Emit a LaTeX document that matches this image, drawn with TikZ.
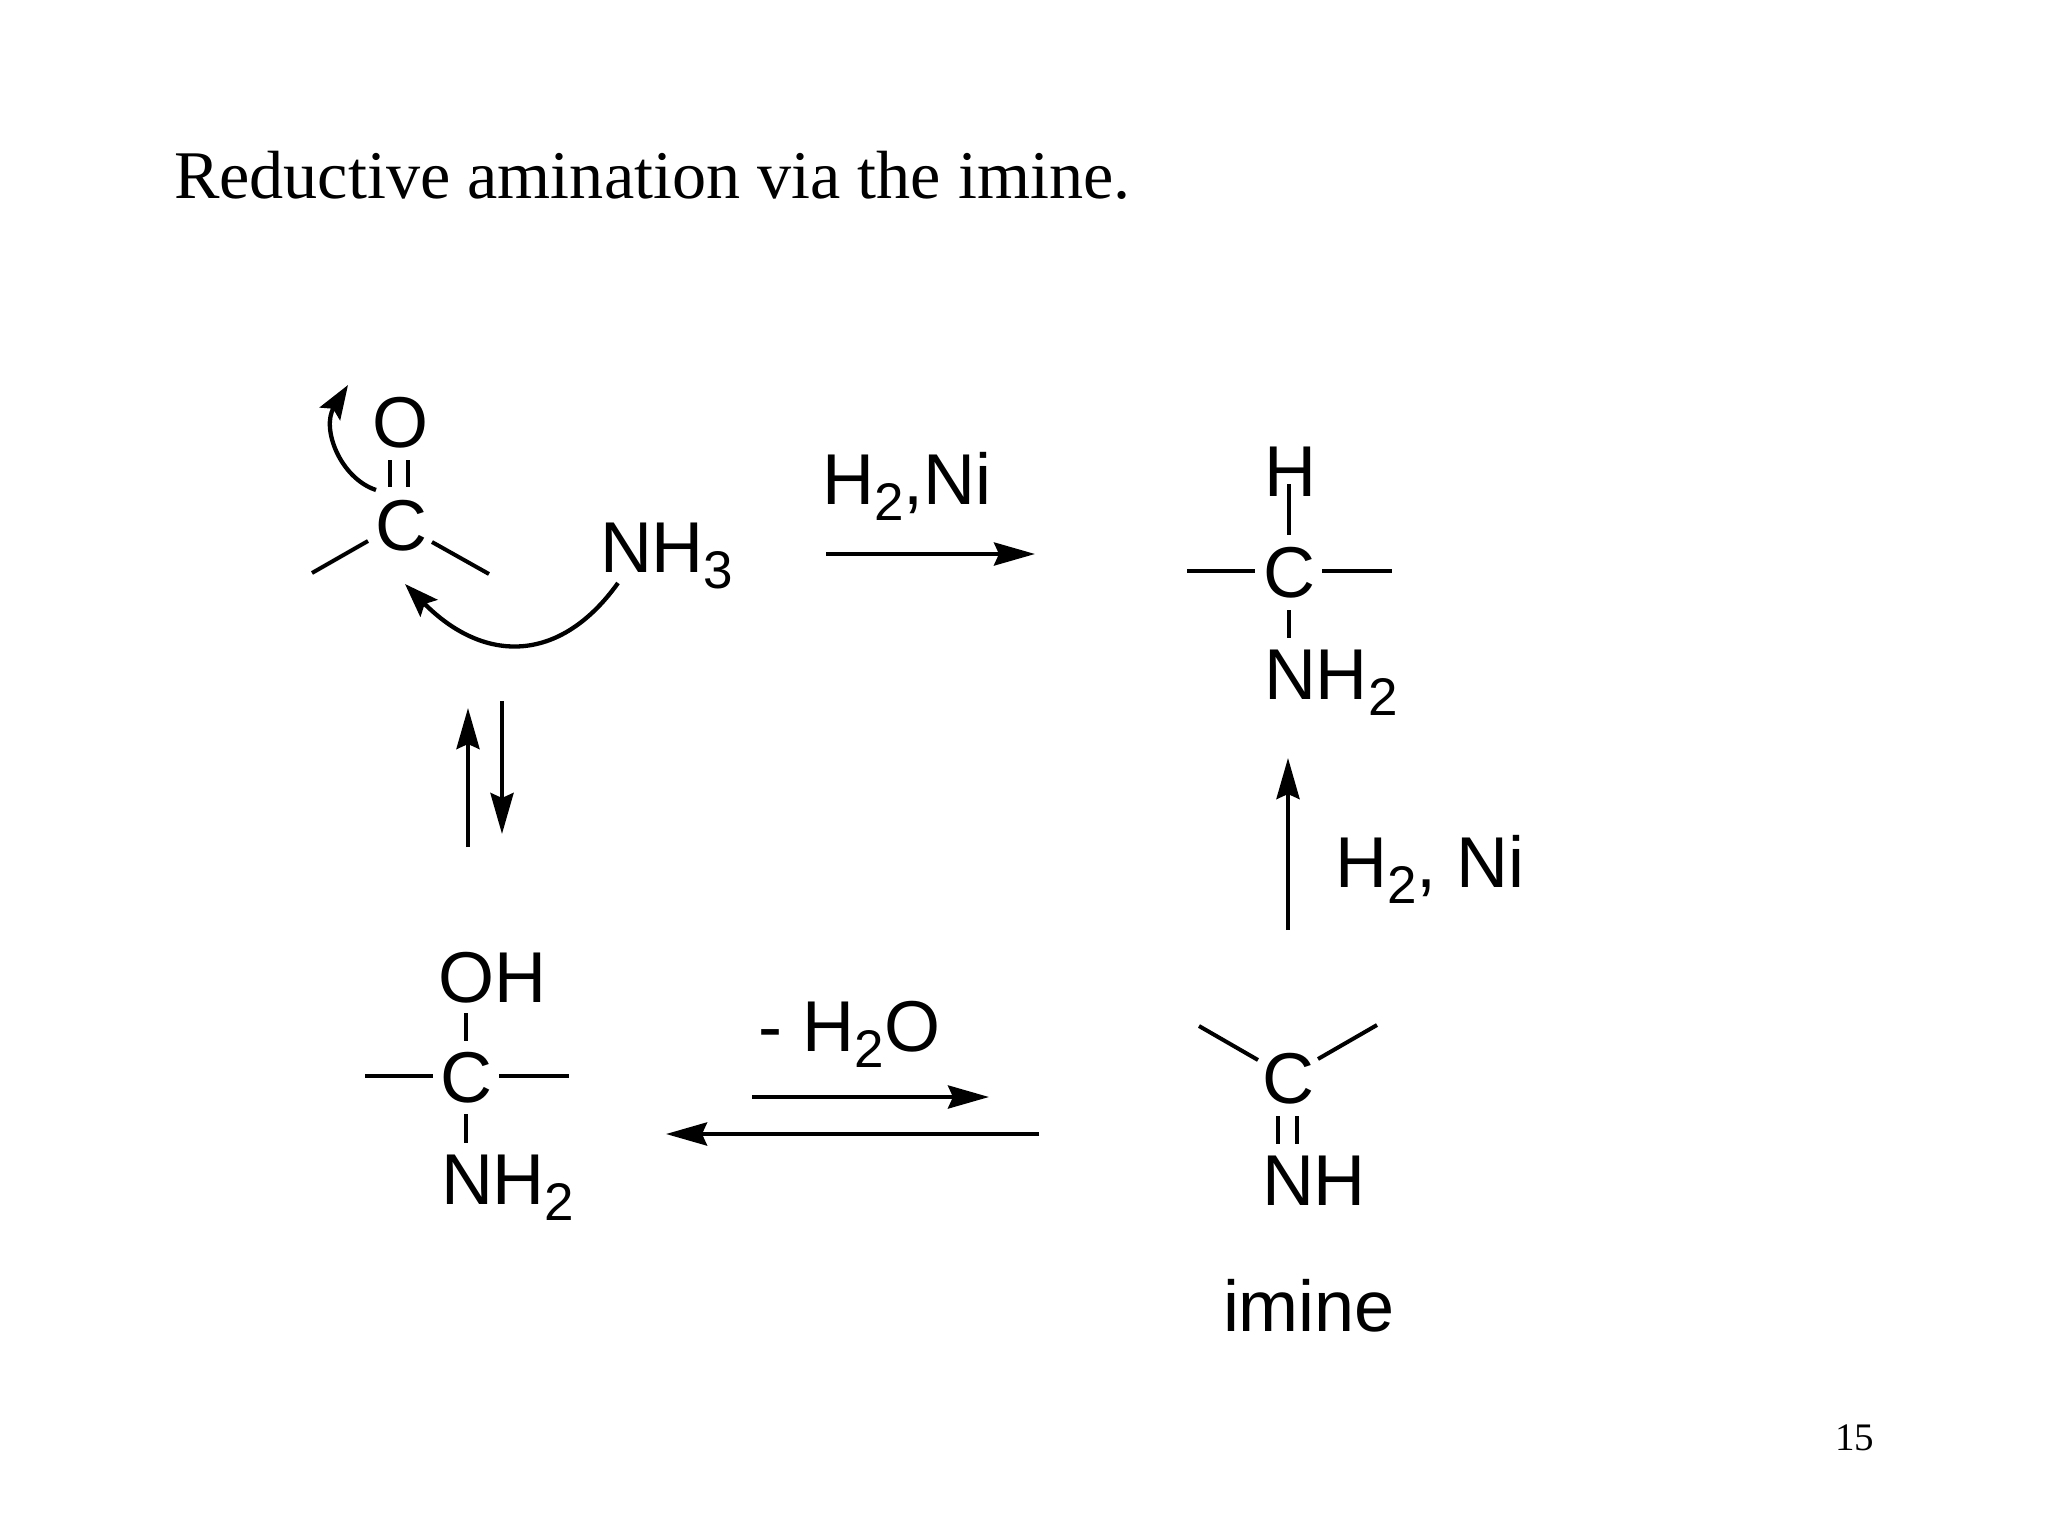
\documentclass[tikz,border=0pt]{standalone}
\usepackage{fontspec}
\setmainfont{Liberation Sans}
\newfontfamily\timesfont{Liberation Serif}
\usetikzlibrary{arrows.meta}
\newcommand\lowsub[1]{\raisebox{-16pt}{\fontsize{53}{53}\selectfont #1}}
\tikzset{
  x=1pt,y=-1pt,
  chem/.style={inner sep=0pt,outer sep=0pt,anchor=base west,font=\fontsize{72}{72}\selectfont},
  serif/.style={inner sep=0pt,outer sep=0pt,anchor=base west},
  bond/.style={line width=4pt},
  rxn/.style={line width=4.3pt,-{Stealth[length=41pt,width=23pt,inset=5pt]}},
  push/.style={line width=4.3pt,-{Stealth[length=34pt,width=24pt,inset=6pt]}}
}
\begin{document}
\begin{tikzpicture}
\useasboundingbox[fill=white] (0,0) rectangle (2048,1536);
% texts
\node[serif,font=\timesfont\fontsize{68.2}{68}\selectfont] (title) at (174,198) {Reductive amination via the imine.};
\node[serif,font=\timesfont\fontsize{39}{40}\selectfont] (page) at (1835,1450) {15};
% ketone
\node[chem] (ko) at (372,447) {O};
\node[chem] (kc) at (375,550) {C};
\node[chem] (nh3) at (600,572) {NH\lowsub{3}};
\coordinate (kdA1) at (390,460); \coordinate (kdA2) at (390,487);
\coordinate (kdB1) at (408,460); \coordinate (kdB2) at (408,487);
\coordinate (klA) at (312,573); \coordinate (klB) at (368,541);
\coordinate (krA) at (432,542); \coordinate (krB) at (489,574);
\draw[bond] (kdA1) -- (kdA2);
\draw[bond] (kdB1) -- (kdB2);
\draw[bond] (klA) -- (klB);
\draw[bond] (krA) -- (krB);
\coordinate (paS) at (376,490); \coordinate (paT) at (348,385);
\draw[push] (paS) .. controls (340,478) and (321,428) .. (paT);
\coordinate (pbS) at (618,583); \coordinate (pbT) at (405,584);
\draw[push] (pbS) .. controls (560,664) and (484,664) .. (pbT);
% equilibrium 1
\coordinate (e1a) at (468,847); \coordinate (e1b) at (468,708);
\coordinate (e2a) at (502,701); \coordinate (e2b) at (502,834);
\draw[rxn] (e1a) -- (e1b);
\draw[rxn] (e2a) -- (e2b);
% hemiaminal
\node[chem] (hoh) at (438,1002) {OH};
\node[chem] (hc) at (440,1102) {C};
\node[chem] (hn) at (441,1204) {NH\lowsub{2}};
\coordinate (htA) at (466,1013); \coordinate (htB) at (466,1041);
\coordinate (hlA) at (365,1076); \coordinate (hlB) at (433,1076);
\coordinate (hrA) at (499,1076); \coordinate (hrB) at (569,1076);
\coordinate (hbA) at (466,1114); \coordinate (hbB) at (466,1143);
\draw[bond] (htA) -- (htB);
\draw[bond] (hlA) -- (hlB);
\draw[bond] (hrA) -- (hrB);
\draw[bond] (hbA) -- (hbB);
% water loss
\node[chem] (h2o) at (758,1051) {-\kern21pt H\lowsub{2}O};
\coordinate (wfA) at (752,1097); \coordinate (wfB) at (989,1097);
\coordinate (wbA) at (1039,1134); \coordinate (wbB) at (666,1134);
\draw[rxn] (wfA) -- (wfB);
\draw[rxn] (wbA) -- (wbB);
% imine
\node[chem] (ic) at (1262,1103) {C};
\node[chem] (in) at (1262,1205) {NH};
\node[chem] (iname) at (1223,1331) {imine};
\coordinate (ilA) at (1199,1026); \coordinate (ilB) at (1258,1060);
\coordinate (irA) at (1377,1025); \coordinate (irB) at (1318,1059);
\coordinate (idA1) at (1278,1116); \coordinate (idA2) at (1278,1144);
\coordinate (idB1) at (1297,1116); \coordinate (idB2) at (1297,1144);
\draw[bond] (ilA) -- (ilB);
\draw[bond] (irA) -- (irB);
\draw[bond] (idA1) -- (idA2);
\draw[bond] (idB1) -- (idB2);
% arrow up
\coordinate (uA) at (1288,930); \coordinate (uB) at (1288,758);
\draw[rxn] (uA) -- (uB);
\node[chem] (up) at (1335,887) {H\lowsub{2}, Ni};
% amine
\node[chem] (ah) at (1264,496) {H};
\node[chem] (ac) at (1263,597) {C};
\node[chem] (an) at (1264,699) {NH\lowsub{2}};
\coordinate (atA) at (1289,484); \coordinate (atB) at (1289,535);
\coordinate (alA) at (1187,571); \coordinate (alB) at (1255,571);
\coordinate (arA) at (1322,571); \coordinate (arB) at (1392,571);
\coordinate (abA) at (1289,610); \coordinate (abB) at (1289,638);
\draw[bond] (atA) -- (atB);
\draw[bond] (alA) -- (alB);
\draw[bond] (arA) -- (arB);
\draw[bond] (abA) -- (abB);
% top arrow
\node[chem] (top) at (822,504) {H\lowsub{2},Ni};
\coordinate (tA) at (826,554); \coordinate (tB) at (1035,554);
\draw[rxn] (tA) -- (tB);
\end{tikzpicture}
\end{document}
